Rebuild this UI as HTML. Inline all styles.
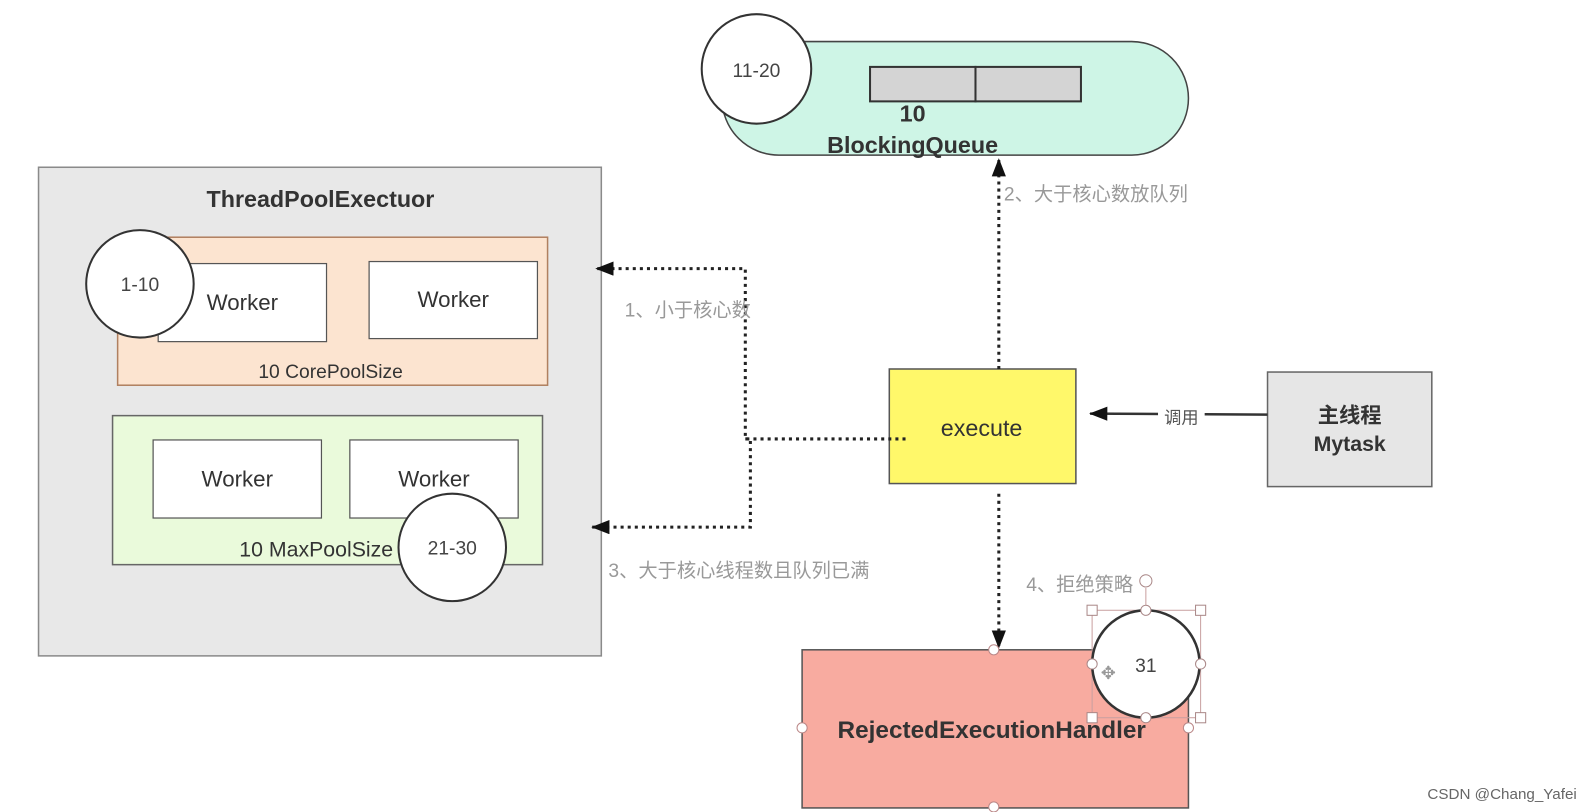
<!DOCTYPE html>
<html><head><meta charset="utf-8"><style>
html,body{margin:0;padding:0;background:#fff;}
svg{display:block;}
text{font-family:"Liberation Sans","Noto Sans CJK SC",sans-serif;}
</style></head><body>
<svg width="1590" height="812" viewBox="0 0 1568 801" preserveAspectRatio="none" xmlns="http://www.w3.org/2000/svg">
<defs>
<marker id="ah2" markerWidth="18" markerHeight="14" refX="17" refY="7" orient="auto" markerUnits="userSpaceOnUse" viewBox="0 0 18 14">
<path d="M0,0 L18,7 L0,14 z" fill="#111"/></marker>
</defs>
<rect x="38" y="165" width="555" height="482" fill="#e8e8e8" stroke="#8a8a8a" stroke-width="1.5"/>
<text x="316" y="204" font-size="23" font-weight="bold" fill="#333" text-anchor="middle">ThreadPoolExectuor</text>
<rect x="116" y="234" width="424" height="146" fill="#fce4d0" stroke="#b08060" stroke-width="1.5"/>
<rect x="156" y="260" width="166" height="77" fill="#fff" stroke="#555" stroke-width="1.2"/>
<text x="239" y="306" font-size="22" fill="#333" text-anchor="middle">Worker</text>
<rect x="364" y="258" width="166" height="76" fill="#fff" stroke="#555" stroke-width="1.2"/>
<text x="447" y="303" font-size="22" fill="#333" text-anchor="middle">Worker</text>
<text x="326" y="373" font-size="19" fill="#333" text-anchor="middle">10 CorePoolSize</text>
<circle cx="138" cy="280" r="53" fill="#fff" stroke="#333" stroke-width="2"/>
<text x="138" y="287" font-size="19" fill="#444" text-anchor="middle">1-10</text>
<rect x="111" y="410" width="424" height="147" fill="#eafadb" stroke="#666" stroke-width="1.5"/>
<rect x="151" y="434" width="166" height="77" fill="#fff" stroke="#555" stroke-width="1.2"/>
<text x="234" y="480" font-size="22" fill="#333" text-anchor="middle">Worker</text>
<rect x="345" y="434" width="166" height="77" fill="#fff" stroke="#555" stroke-width="1.2"/>
<text x="428" y="480" font-size="22" fill="#333" text-anchor="middle">Worker</text>
<text x="236" y="549" font-size="21" fill="#333">10 MaxPoolSize</text>
<circle cx="446" cy="540" r="53" fill="#fff" stroke="#333" stroke-width="2"/>
<text x="446" y="547" font-size="19" fill="#444" text-anchor="middle">21-30</text>
<rect x="712" y="41" width="460" height="112" rx="56" ry="56" fill="#cef5e6" stroke="#444" stroke-width="1.5"/>
<rect x="858" y="66" width="104" height="34" fill="#d4d4d4" stroke="#333" stroke-width="2"/>
<rect x="962" y="66" width="104" height="34" fill="#d4d4d4" stroke="#333" stroke-width="2"/>
<text x="900" y="120" font-size="23" font-weight="bold" fill="#333" text-anchor="middle">10</text>
<text x="900" y="151" font-size="23" font-weight="bold" fill="#333" text-anchor="middle">BlockingQueue</text>
<circle cx="746" cy="68" r="54" fill="#fff" stroke="#333" stroke-width="2"/>
<text x="746" y="76" font-size="19" fill="#444" text-anchor="middle">11-20</text>
<rect x="877" y="364" width="184" height="113" fill="#fff86a" stroke="#555" stroke-width="1.5"/>
<text x="968" y="430" font-size="23" fill="#333" text-anchor="middle">execute</text>
<rect x="1250" y="367" width="162" height="113" fill="#e6e6e6" stroke="#666" stroke-width="1.5"/>
<text x="1331" y="417" font-size="21" font-weight="bold" fill="#333" text-anchor="middle">主线程</text>
<text x="1331" y="445" font-size="21" font-weight="bold" fill="#333" text-anchor="middle">Mytask</text>
<line x1="1250" y1="409" x2="1075" y2="408" stroke="#333" stroke-width="2.5" marker-end="url(#ah2)"/>
<rect x="1142" y="398" width="46" height="24" fill="#fff"/>
<text x="1165" y="418" font-size="17" fill="#555" text-anchor="middle">调用</text>
<g stroke="#222" stroke-width="3" stroke-dasharray="3,4" fill="none">
<line x1="985" y1="364" x2="985" y2="157" marker-end="url(#ah2)"/>
<polyline points="893,433 735,433 735,265 588,265" marker-end="url(#ah2)"/>
<polyline points="735,433 740,433 740,520 584,520" marker-end="url(#ah2)"/>
<line x1="985" y1="487" x2="985" y2="639" marker-end="url(#ah2)"/>
</g>
<text x="990" y="198" font-size="19" fill="#999">2、大于核心数放队列</text>
<text x="616" y="312" font-size="19" fill="#999">1、小于核心数</text>
<text x="600" y="569" font-size="19" fill="#999">3、大于核心线程数且队列已满</text>
<text x="1012" y="583" font-size="19" fill="#999">4、拒绝策略</text>
<rect x="791" y="641" width="381" height="156" fill="#f8aba0" stroke="#555" stroke-width="1.5"/>
<text x="978" y="728" font-size="24" font-weight="bold" fill="#333" text-anchor="middle">RejectedExecutionHandler</text>
<g fill="#fff" stroke="#b88" stroke-width="1">
<circle cx="980" cy="641" r="5"/><circle cx="791" cy="718" r="5"/><circle cx="1172" cy="718" r="5"/><circle cx="980" cy="796" r="5"/>
</g>
<rect x="1077" y="602" width="107" height="106" fill="none" stroke="#c9a0a0" stroke-width="1"/>
<line x1="1130" y1="580" x2="1130" y2="602" stroke="#c9a0a0" stroke-width="1"/>
<circle cx="1130" cy="655" r="53" fill="#fff" stroke="#333" stroke-width="2.5"/>
<text x="1130" y="663" font-size="19" fill="#444" text-anchor="middle">31</text>
<text x="1093" y="670" font-size="18" fill="#999" text-anchor="middle">✥</text>
<g fill="#fff" stroke="#a88" stroke-width="1">
<rect x="1072" y="597" width="10" height="10"/><rect x="1179" y="597" width="10" height="10"/>
<rect x="1072" y="703" width="10" height="10"/><rect x="1179" y="703" width="10" height="10"/>
<circle cx="1130" cy="602" r="5"/><circle cx="1130" cy="708" r="5"/><circle cx="1077" cy="655" r="5"/><circle cx="1184" cy="655" r="5"/>
<circle cx="1130" cy="573" r="6"/>
</g>
<text x="1555" y="788" font-size="15" fill="#666" text-anchor="end">CSDN @Chang_Yafei</text>
</svg>
</body></html>
